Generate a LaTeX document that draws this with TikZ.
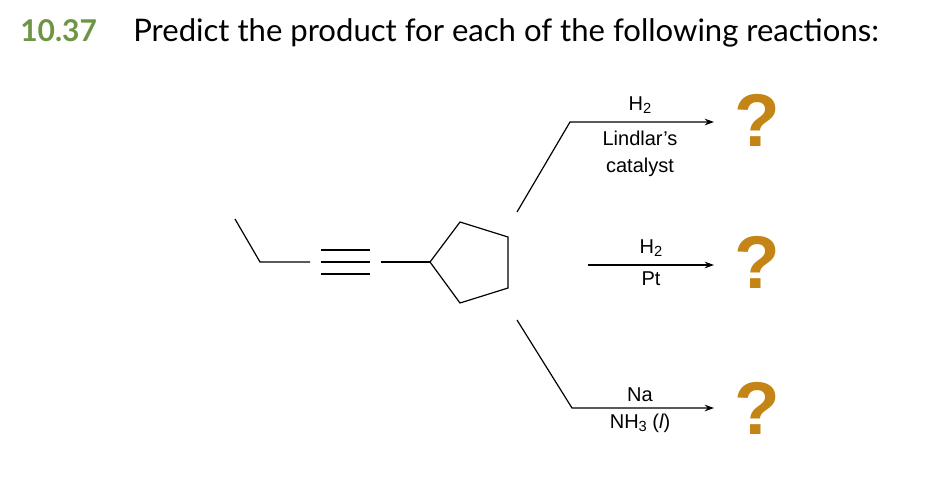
\documentclass[tikz,border=0pt]{standalone}
\usepackage{fontspec}
\usetikzlibrary{arrows.meta}
\setmainfont{Lato}
\newfontfamily\arial{Liberation Sans}
\definecolor{tgreen}{HTML}{6E9445}
\definecolor{qorange}{HTML}{C48516}
\newcommand{\mysub}[1]{\raisebox{-0.3ex}{\fontsize{11}{12}\selectfont #1}}
\begin{document}
\begin{tikzpicture}[x=0.75pt,y=-0.75pt,
  bond/.style={line width=0.9pt},
  rx/.style={line width=0.9pt,-{Stealth[length=7pt,width=5pt]}},
  lab/.style={font=\arial\fontsize{15}{17}\selectfont,inner sep=0pt,align=center},
  qm/.style={font=\arial\bfseries\fontsize{56}{58}\selectfont,text=qorange,inner sep=0pt}]
\useasboundingbox (0,0) rectangle (946,476);
\node[anchor=base west,inner sep=0pt,text=tgreen,font=\bfseries\fontsize{22.5}{25}\selectfont] (num) at (20,41) {10.37};
\node[anchor=base west,inner sep=0pt,font=\fontsize{23.3}{27}\selectfont] (ttl) at (133,41) {Predict the product for each of the following reactions:};
% molecule
\coordinate (c1) at (235,219); \coordinate (c2) at (260,262); \coordinate (c3) at (310,262);
\coordinate (t1) at (321,262); \coordinate (t2) at (370,262);
\coordinate (c4) at (381,262); \coordinate (r1) at (430,262);
\coordinate (r2) at (460,222); \coordinate (r3) at (508,237); \coordinate (r4) at (508,288); \coordinate (r5) at (460,303);
\draw[bond] (c1)--(c2)--(c3);
\draw[bond] ([yshift=-9]t1)--([yshift=-9]t2);
\draw[bond] (t1)--(t2);
\draw[bond] ([yshift=9]t1)--([yshift=9]t2);
\draw[bond] (c4)--(r1);
\draw[bond] (r1)--(r2)--(r3)--(r4)--(r5)--cycle;
% arrows
\coordinate (a1) at (517,212); \coordinate (a1b) at (570,122); \coordinate (a1e) at (714,122);
\draw[rx] (a1)--(a1b)--(a1e);
\coordinate (a2) at (588,265); \coordinate (a2e) at (714,265);
\draw[rx] (a2)--(a2e);
\coordinate (a3) at (517,320); \coordinate (a3b) at (572,408); \coordinate (a3e) at (714,408);
\draw[rx] (a3)--(a3b)--(a3e);
\node[lab,anchor=south] (h1) at (640,114) {H\mysub{2}};
\node[lab,anchor=north] (l1) at (640,131) {Lindlar’s\\[3pt]catalyst};
\node[lab,anchor=south] (h2) at (651,257) {H\mysub{2}};
\node[lab,anchor=north] (p2) at (651,271) {Pt};
\node[lab,anchor=south] (n3) at (640,402) {Na};
\node[lab,anchor=north] (m3) at (640,414) {NH\mysub{3} ({\itshape l})};
\node[qm] (q1) at (757,120) {?};
\node[qm] (q2) at (757,262) {?};
\node[qm] (q3) at (757,408) {?};
\end{tikzpicture}
\end{document}
